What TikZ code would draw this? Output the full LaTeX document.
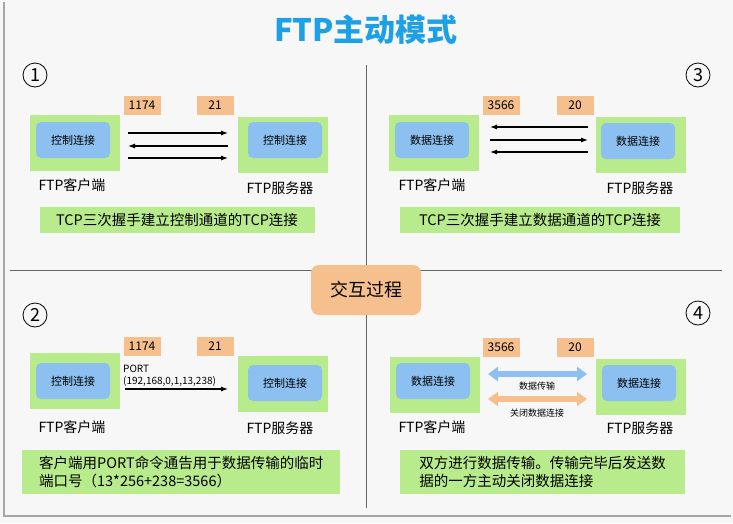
\documentclass[tikz,border=0pt]{standalone}
\usepackage{fontspec}
\setmainfont{Noto Sans CJK SC}
\usetikzlibrary{arrows.meta}
\definecolor{grn}{HTML}{B8EB8C}
\definecolor{blu}{HTML}{8CC0F0}
\definecolor{org}{HTML}{F5C08E}
\definecolor{ttl}{HTML}{1EA0E6}
\tikzset{
 outerbox/.style={fill=grn,minimum width=90pt,minimum height=56pt,inner sep=0pt},
 innerbox/.style={fill=blu,rounded corners=5pt,minimum width=74pt,minimum height=36pt,font=\fontsize{11}{12}\selectfont},
 portbox/.style={fill=org,minimum width=37pt,minimum height=19pt,inner sep=0pt,font=\fontsize{12}{12}\selectfont},
 lbl/.style={font=\fontsize{14}{15}\selectfont},
 captionbox/.style={fill=grn,font=\fontsize{14.5}{18}\selectfont,align=left,inner sep=4pt},
 num/.style={circle,draw,thick,inner sep=0.5pt,minimum size=24pt,font=\fontsize{18}{18}\selectfont},
 arr/.style={-{Latex[length=7pt,width=5pt]},line width=1.1pt},
 fatarr/.style={{Triangle[length=10pt,width=14pt]}-{Triangle[length=10pt,width=14pt]},line width=6pt}
}
\begin{document}
\begin{tikzpicture}[x=1pt,y=-1pt]
\useasboundingbox (0,0) rectangle (733,523);
\fill[white!97!black] (0,0) rectangle (733,523);
\draw[gray!70,line width=1.2pt] (4,2) -- (4,516) -- (731,516);
\node[font=\bfseries\fontsize{31}{32}\selectfont,text=ttl] (title) at (366,30) {FTP主动模式};
\coordinate (vt) at (366,65); \coordinate (vb) at (366,508);
\coordinate (hl) at (10,270); \coordinate (hr) at (722,270);
\draw[gray!80!black,thick] (vt) -- (vb);
\draw[gray!80!black,thick] (hl) -- (hr);
\node[fill=org,rounded corners=8pt,minimum width=110pt,minimum height=50pt,font=\fontsize{18}{20}\selectfont] (mid) at (366,290) {交互过程};
% Q1
\node[num] (n1) at (35,75) {1};
\node[outerbox] (c1) at (75,143) {}; \node[innerbox] (ci1) at (73,140) {控制连接};
\node[outerbox] (s1) at (283,145) {}; \node[innerbox] (si1) at (285,140) {控制连接};
\node[lbl] (cl1) at (72,185) {FTP客户端}; \node[lbl] (sl1) at (280,188) {FTP服务器};
\node[portbox] (p1a) at (142,105) {1174}; \node[portbox] (p1b) at (215,105) {21};
\coordinate (a1) at (128,133); \coordinate (b1) at (228,133);
\coordinate (a2) at (128,146); \coordinate (b2) at (228,146);
\coordinate (a3) at (128,158); \coordinate (b3) at (228,158);
\draw[arr] (a1) -- (b1); \draw[arr] (b2) -- (a2); \draw[arr] (a3) -- (b3);
\node[captionbox,minimum width=275pt,minimum height=26pt,align=center] (t1) at (177,220) {TCP三次握手建立控制通道的TCP连接};
% Q3
\node[num] (n3) at (698,75) {3};
\node[outerbox] (c3) at (434,143) {}; \node[innerbox] (ci3) at (432,140) {数据连接};
\node[outerbox] (s3) at (641,145) {}; \node[innerbox] (si3) at (638,141) {数据连接};
\node[lbl] (cl3) at (432,185) {FTP客户端}; \node[lbl] (sl3) at (640,188) {FTP服务器};
\node[portbox] (p3a) at (501,105) {3566}; \node[portbox] (p3b) at (575,105) {20};
\coordinate (d1) at (490,127); \coordinate (e1) at (588,127);
\coordinate (d2) at (490,140); \coordinate (e2) at (588,140);
\coordinate (d3) at (490,152); \coordinate (e3) at (588,152);
\draw[arr] (e1) -- (d1); \draw[arr] (d2) -- (e2); \draw[arr] (e3) -- (d3);
\node[captionbox,minimum width=280pt,minimum height=26pt,align=center] (t3) at (540,220) {TCP三次握手建立数据通道的TCP连接};
% Q2
\node[num] (n2) at (35,315) {2};
\node[outerbox] (c2) at (75,381) {}; \node[innerbox] (ci2) at (73,381) {控制连接};
\node[outerbox] (s2) at (283,384) {}; \node[innerbox] (si2) at (285,383) {控制连接};
\node[lbl] (cl2) at (72,427) {FTP客户端}; \node[lbl] (sl2) at (280,428) {FTP服务器};
\node[portbox] (p2a) at (142,346) {1174}; \node[portbox] (p2b) at (215,346) {21};
\coordinate (f1) at (125,389); \coordinate (g1) at (228,389);
\draw[arr] (f1) -- (g1);
\node[anchor=south west,align=left,inner sep=1pt,font=\fontsize{10}{12}\selectfont] (port) at (122,388) {PORT\\(192,168,0,1,13,238)};
\node[captionbox,minimum width=318pt,minimum height=44pt,anchor=north west] (t2) at (22,450) {客户端用PORT命令通告用于数据传输的临时\\端口号（13*256+238=3566）};
% Q4
\node[num] (n4) at (698,313) {4};
\node[outerbox] (c4) at (435,385) {}; \node[innerbox] (ci4) at (433,381) {数据连接};
\node[outerbox] (s4) at (641,387) {}; \node[innerbox] (si4) at (639,383) {数据连接};
\node[lbl] (cl4) at (432,427) {FTP客户端}; \node[lbl] (sl4) at (640,428) {FTP服务器};
\node[portbox] (p4a) at (501,347) {3566}; \node[portbox] (p4b) at (575,347) {20};
\coordinate (h1) at (488,374); \coordinate (k1) at (587,374);
\coordinate (h2) at (488,399); \coordinate (k2) at (587,399);
\draw[fatarr,blu] (h1) -- (k1);
\draw[fatarr,org] (h2) -- (k2);
\node[font=\fontsize{9}{10}\selectfont] (dl1) at (537,386) {数据传输};
\node[font=\fontsize{9}{10}\selectfont] (dl2) at (537,413) {关闭数据连接};
\node[captionbox,minimum width=285pt,minimum height=44pt,anchor=north west] (t4) at (400,450) {双方进行数据传输。传输完毕后发送数\\据的一方主动关闭数据连接};
\end{tikzpicture}
\end{document}
